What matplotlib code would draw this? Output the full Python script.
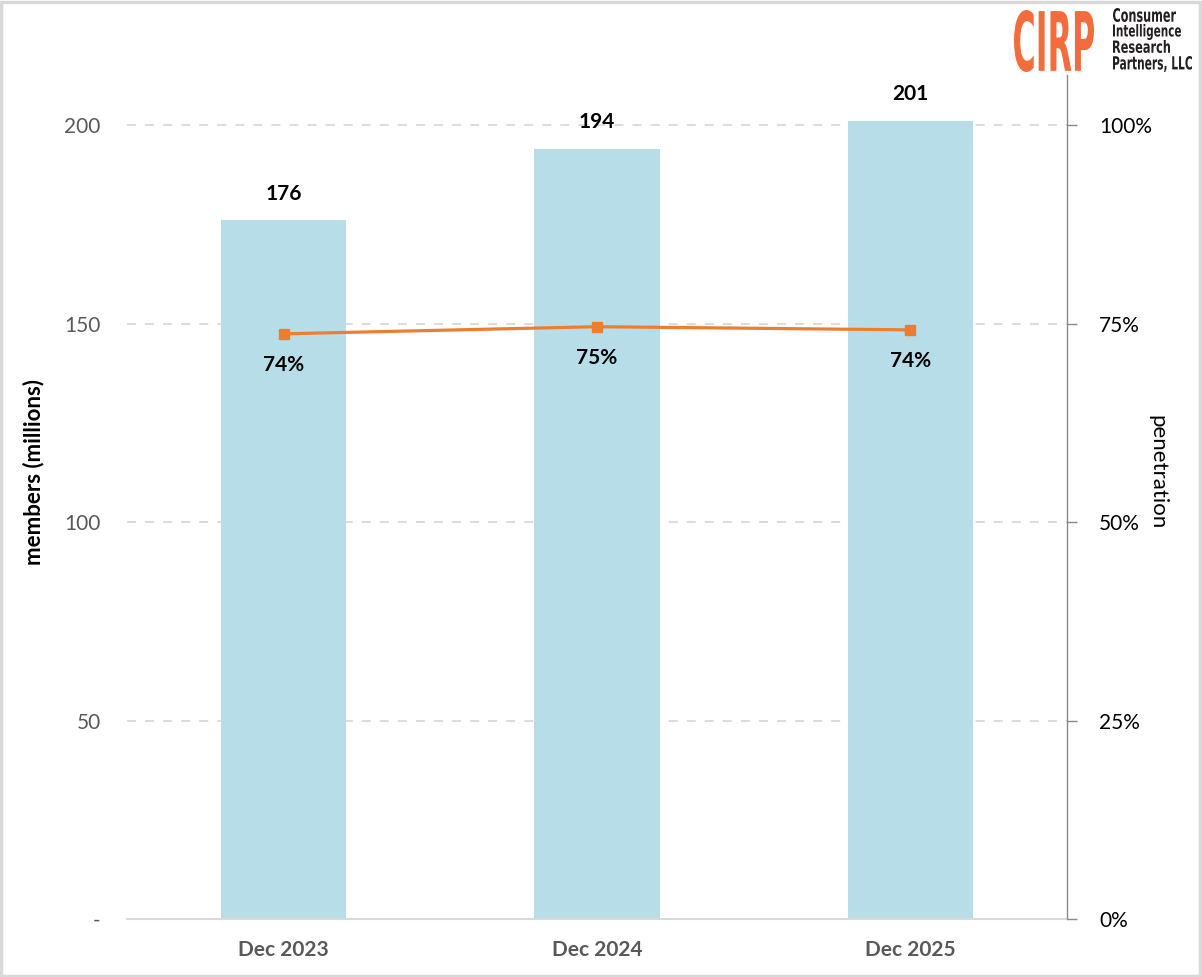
import matplotlib
matplotlib.use('Agg')
import matplotlib.pyplot as plt
from matplotlib.patches import Rectangle, PathPatch
from matplotlib.textpath import TextPath
from matplotlib.font_manager import FontProperties
from matplotlib.transforms import Affine2D
import numpy as np

plt.rcParams['font.family'] = ['Lato', 'DejaVu Sans']

# data
categories = ['Dec 2023', 'Dec 2024', 'Dec 2025']
members = [176, 194, 201]
penetration = [0.737, 0.746, 0.742]
pen_labels = ['74%', '75%', '74%']

bar_color = '#B7DEE8'
line_color = '#ED7D31'
logo_color = '#F26C3C'
grid_color = '#D9D9D9'
gray_text = '#595959'

W, H = 1202, 977
fig = plt.figure(figsize=(W / 100, H / 100), dpi=100)
ax = fig.add_axes([127 / W, 1 - 919 / H, 940 / W, 844 / H])
ax2 = ax.twinx()

x = np.arange(len(categories))
rects = ax.bar(x, members, 0.4, color=bar_color, zorder=2)
ax.set_xlim(-0.5, 2.5)
ax.set_ylim(0, 212.6)
ax.set_yticks([0, 50, 100, 150, 200])
ax.set_yticklabels(['-', '50', '100', '150', '200'])
ax.yaxis.grid(True, linestyle=(0, (5, 5)), color=grid_color, linewidth=1.3, zorder=0)
ax.set_axisbelow(True)
ax.tick_params(axis='y', length=0, pad=19, labelsize=15, labelcolor=gray_text)
ax.tick_params(axis='x', length=0, pad=15, labelsize=15, labelcolor=gray_text)
ax.set_xticks(x)
ax.set_xticklabels(categories, fontweight='bold')
for s in ['top', 'left', 'right']:
    ax.spines[s].set_visible(False)
ax.spines['bottom'].set_color(grid_color)
ax.spines['bottom'].set_linewidth(1.5)
ax.set_ylabel('members (millions)', fontsize=16, fontweight='bold')
ax.yaxis.set_label_coords(-0.088, 0.53)

for r, v in zip(rects, members):
    ax.annotate(str(v), xy=(r.get_x() + r.get_width() / 2, v), xytext=(0, 12),
                textcoords='offset points', ha='center', va='bottom',
                fontsize=15, fontweight='bold', color='black')

ax2.plot(x, penetration, color=line_color, linewidth=2.3, marker='s', markersize=7, zorder=3)
ax2.set_ylim(0, 1.063)
ax2.set_yticks([0, 0.25, 0.5, 0.75, 1.0])
ax2.set_yticklabels(['0%', '25%', '50%', '75%', '100%'])
ax2.tick_params(axis='y', length=7, width=1, color='#898989', pad=16, labelsize=15, labelcolor='black')
for s in ['top', 'left', 'bottom']:
    ax2.spines[s].set_visible(False)
ax2.spines['right'].set_color('#898989')
ax2.spines['right'].set_linewidth(1)
ax2.set_ylabel('penetration', fontsize=16, rotation=-90, va='center')
ax2.yaxis.set_label_coords(1.096, 0.53)

for xi, p, lab in zip(x, penetration, pen_labels):
    ax2.annotate(lab, xy=(xi, p), xytext=(0, -15), textcoords='offset points',
                 ha='center', va='top', fontsize=15, fontweight='bold', color='black')


def squeezed_text(s, x0, y_top, width, height, color, weight='bold'):
    # draw text as a path squeezed to fit a pixel box (top-left origin)
    tp = TextPath((0, 0), s, size=100, prop=FontProperties(family='DejaVu Sans', weight=weight))
    ext = tp.get_extents()
    sx = width / ext.width
    sy = height / ext.height
    tr = Affine2D().translate(-ext.x0, -ext.y0).scale(sx, sy).translate(x0, H - y_top - height)
    fig.patches.append(PathPatch(tr.transform_path(tp), facecolor=color, edgecolor='none',
                                 transform=None))


# logo
squeezed_text('CIRP', 1014, 10, 80, 62, logo_color)
logo_lines = ['Consumer', 'Intelligence', 'Research', 'Partners, LLC']
logo_widths = [63, 68, 57, 79]
logo_tops = [8, 24, 40, 56]
logo_heights = [14, 16, 13, 16]
for s, w, t, h in zip(logo_lines, logo_widths, logo_tops, logo_heights):
    squeezed_text(s, 1113, t, w, h, '#231F20')

# border
fig.patches.append(Rectangle((0.001, 0.001), 0.997, 0.997, transform=fig.transFigure,
                             fill=False, edgecolor='#D9D9D9', linewidth=2.5))

fig.savefig('out.png', dpi=100)
